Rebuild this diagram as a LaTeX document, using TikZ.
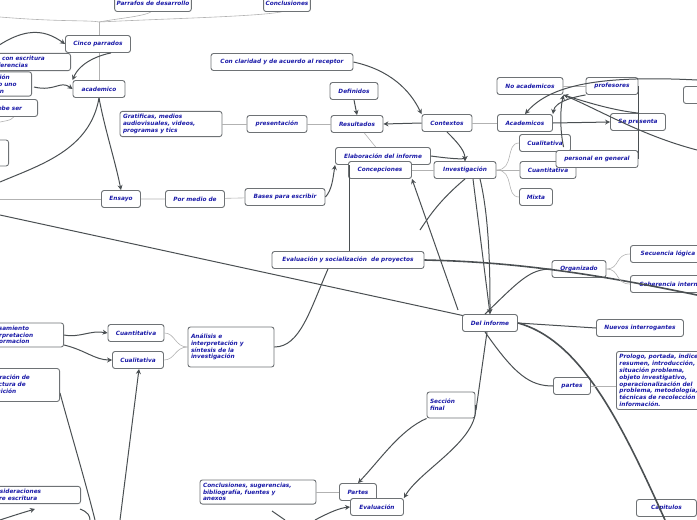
\documentclass[tikz,border=0pt]{standalone}
\usepackage{fontspec}
\setmainfont{DejaVu Sans}
\usetikzlibrary{arrows.meta}
\definecolor{tx}{HTML}{1A1AA8}
\definecolor{ln}{HTML}{4A4F52}
\tikzset{
 bx/.style={draw=ln!80,line width=0.9pt,rounded corners=2.5pt,fill=white,text=tx,font={\fontsize{5.8}{6.8}\selectfont\bfseries\itshape},inner sep=2pt,minimum height=17pt},
 ml/.style={bx,align=left,text width=#1,inner sep=3pt},
 tl/.style={draw=gray!60,line width=0.6pt},
 ar/.style={draw=ln,line width=1pt,-{Stealth[length=5pt,width=5pt]}},
 tk/.style={draw=ln,line width=1.6pt},
}
\hyphenpenalty=10000
\exhyphenpenalty=10000
\begin{document}
\begin{tikzpicture}[x=1pt,y=-1pt]
\useasboundingbox (0,0) rectangle (697,520);
\clip (0,0) rectangle (697,520);
% background lines
\draw[tl] (0,17) .. controls (60,22) and (90,20) .. (99,22);
\draw[tl] (99,22) .. controls (120,18) and (150,16) .. (153,10);
\draw[tl] (99,22) .. controls (180,18) and (280,16) .. (287,10);
\draw[tl] (99,22) -- (99,82);
\draw[tl] (0,122) .. controls (10,120) and (14,120) .. (16,112);
\draw[tl] (0,199) -- (105,199);
\draw[draw=ln,line width=1pt] (0,215) -- (465,316);
\draw[draw=ln,line width=1pt] (99,98) .. controls (90,150) and (40,165) .. (0,182);
\draw[draw=ln,line width=1pt] (60,393) .. controls (70,430) and (85,480) .. (95,520);
\draw[ar] (120,520) -- (139,369);
\draw[ar] (0,520) .. controls (15,515) and (25,512) .. (35,509);
\draw[draw=ln,line width=1pt] (80,509) .. controls (88,512) and (90,516) .. (90,520);
% nodes
\node[bx] (par) at (153,3) {Parrafos de desarrollo};
\node[bx] (con) at (287,3) {Conclusiones};
\node[ml=90pt,anchor=east] (lb1) at (71,62) {Claras, con escritura\\ con referencias};
\node[bx,minimum width=65pt] (cin) at (98,44) {Cinco parrados};
\node[ml=60pt,anchor=east] (lb2) at (32,84) {Introducción\\ Desarrollo uno\\ Conclusión};
\node[bx,minimum width=60pt,anchor=east] (deb) at (38,108) {Debe ser};
\node[bx,minimum width=50pt,minimum height=26pt,anchor=east] (lb3) at (9,153) {};
\node[bx,minimum width=52pt] (aca) at (99,89) {academico};
\node[bx,minimum width=142pt] (cla) at (282,62) {Con claridad y de acuerdo al receptor};
\node[bx,minimum width=48pt] (def) at (354,91) {Definidos};
\node[ml=96pt] (gra) at (171,124) {Gratificas, medios audiovisuales, videos, programas y tics};
\node[bx,minimum width=60pt] (pre) at (277,124) {presentación};
\node[bx,minimum width=52pt] (res) at (357,124) {Resultados};
\node[bx,minimum width=95pt] (ela) at (383,156) {Elaboración del informe};
\node[bx,minimum width=63pt] (cnc) at (380,170) {Concepciones};
\node[bx,minimum width=62pt] (inv) at (465,170) {Investigación};
\node[bx,minimum width=50pt] (ctx) at (447,123) {Contextos};
\node[bx,minimum width=55pt] (acs) at (525,123) {Academicos};
\node[bx,minimum width=66pt] (noa) at (530,86) {No academicos};
\node[bx,minimum width=52pt] (pro) at (612,86) {profesores};
\node[bx,minimum width=40pt,anchor=west] (sbx) at (683,95) {Se};
\node[bx,minimum width=51pt] (cl1) at (545,143) {Cualitativa};
\node[bx,minimum width=56pt] (cu1) at (548,170) {Cuantitativa};
\node[bx,minimum width=82pt] (per) at (597,159) {personal en general};
\node[bx,minimum width=55pt] (sep) at (638,122) {Se presenta};
\node[bx,minimum width=33pt] (mix) at (536,197) {Mixta};
\node[bx,minimum width=39pt] (ens) at (121,199) {Ensayo};
\node[bx,minimum width=59pt] (pmd) at (195,199) {Por medio de};
\node[bx,minimum width=80pt] (bas) at (285,197) {Bases para escribir};
\node[bx,minimum width=152pt] (evs) at (348,260) {Evaluación y socialización \ de proyectos};
\node[bx,minimum width=54pt] (org) at (579,269) {Organizado};
\node[bx,minimum width=75pt,anchor=west] (sec) at (630,254) {Secuencia lógica};
\node[bx,minimum width=80pt,anchor=west] (coh) at (630,284) {Coherencia interna};
\node[bx,minimum width=55pt] (dif) at (490,323) {Del informe};
\node[bx,minimum width=87pt] (nue) at (640,328) {Nuevos interrogantes};
\node[bx,minimum width=37pt] (pa1) at (572,386) {partes};
\node[ml=90pt,anchor=north west] (prl) at (616,351) {Prologo, portada, indice, resumen, introducción, situación problema, objeto investigativo, operacionalización del problema, metodología, técnicas de recolección de información.};
\node[ml=42pt,minimum height=26pt] (scf) at (451,405) {Sección\\ final};
\node[ml=80pt,anchor=east] (prc) at (64,335) {Procesamiento\\ e interpretacion\\ de informacion};
\node[bx,minimum width=56pt] (cu2) at (136,333) {Cuantitativa};
\node[bx,minimum width=51pt] (cl2) at (138,360) {Cualitativa};
\node[ml=80pt,minimum height=40pt] (ana) at (231,347) {Análisis e\\ interpretación y\\ síntesis de la\\ investigación};
\node[ml=75pt,anchor=east,minimum height=33pt] (ees) at (60,385) {Elaboración de\\ estructura de\\ exposición};
\node[ml=90pt,anchor=east] (csc) at (81,495) {Consideraciones\\ sobre escritura};
\node[ml=110pt] (cns) at (258,492) {Conclusiones, sugerencias,\\ bibliografía, fuentes y\\ anexos};
\node[bx,minimum width=37pt] (pa2) at (358,492) {Partes};
\node[bx,minimum width=53pt] (evl) at (377,507) {Evaluación};
\node[bx,minimum width=60pt,anchor=west] (cap) at (636,508) {Capitulos};
% connectors
\draw[tk] (evs.east) .. controls (520,262) and (600,275) .. (697,295);
\draw[tk] (dif.east) .. controls (580,340) and (620,420) .. (665,520);
\draw[ar] (lb2.north west) ++(2,0) .. controls (20,20) and (45,30) .. (cin.west);
\draw[ar] (cin.south east) ++(-20,0) .. controls (100,55) and (80,62) .. (aca.north west);
\draw[ar] (lb2.east) ++(2,3) .. controls (55,92) and (60,80) .. (aca.west);
\draw[ar] (aca.south) .. controls (105,130) and (115,160) .. (ens.north);
\draw[tl] (ens) -- (pmd) (pmd) -- (bas);
\draw[ar] (bas.east) .. controls (332,190) and (333,178) .. (ela.south west);
\draw[tl] (gra) -- (pre) (pre) -- (res);
\draw[ar] (def.south) -- (res.north);
\draw[ar] (cla.east) .. controls (390,70) and (410,90) .. (ctx.north west);
\draw[ar] (ctx.west) -- (res.east);
\draw[tl] (res) -- (ela);
\draw[ar] (ctx.south) .. controls (455,140) and (465,150) .. (inv.north);
\draw[ar] (ela.east) .. controls (445,158) and (465,160) .. (inv.north);
\draw[tl] (cnc) -- (inv);
\draw[tl] (inv.east) .. controls (515,170) and (505,143) .. (cl1.west);
\draw[tl] (inv.east) -- (cu1.west);
\draw[tl] (inv.east) .. controls (515,170) and (505,197) .. (mix.west);
\draw[tl] (ctx) -- (acs) (noa) -- (pro);
\draw[ar] (acs.east) -- (sep.west);
\draw[draw=ln,line width=1pt] (638,86) -- (638,159);
\draw[ar] (697,80) .. controls (600,75) and (550,85) .. (acs.north);
\draw[ar] (pro.south west) .. controls (580,96) and (555,100) .. (acs.north east);
\draw[ar] (sep.north) .. controls (610,110) and (580,100) .. (noa.south east);
\draw[ar] (per.north west) ++(8,-3) .. controls (560,130) and (560,110) .. (noa.south east);
\draw[draw=ln,line width=1pt] (noa.south east) .. controls (600,110) and (640,135) .. (697,150);
\draw[draw=ln,line width=1pt] (349,165) -- (349,251);
\draw[ar] (inv.south) ++(15,0) .. controls (490,220) and (490,280) .. (dif.north);
\draw[ar] (inv.south) ++(8,0) -- (dif.north);
\draw[draw=ln,line width=1pt] (inv.south) .. controls (440,200) and (430,215) .. (420,230);
\draw[ar] (dif.north west) ++(-4,-4) -- (cnc.south east);
\draw[draw=ln,line width=1pt] (evs.south) ++(-20,0) .. controls (310,310) and (300,347) .. (ana.east);
\draw[draw=ln,line width=1pt] (dif.north) ++(-5,0) .. controls (520,280) and (530,269) .. (org.west);
\draw[tl] (org.east) .. controls (620,269) and (615,254) .. (sec.west);
\draw[tl] (org.east) .. controls (620,269) and (615,284) .. (coh.west);
\draw[draw=ln,line width=1pt] (dif.east) -- (nue.west);
\draw[draw=ln,line width=1pt] (dif.south) ++(-5,0) .. controls (515,375) and (530,386) .. (pa1.west);
\draw[tl] (pa1) -- (prl.west |- pa1);
\draw[draw=ln,line width=1pt] (dif.south) ++(-3,0) -- (476,410);
\draw[ar] (scf.south west) .. controls (400,430) and (380,460) .. (pa2.north);
\draw[ar] (scf.east) .. controls (480,440) and (420,470) .. (evl.north east);
\draw[tl] (cns) -- (pa2);
\draw[tl] (ana.west) .. controls (175,347) and (175,333) .. (cu2.east);
\draw[tl] (ana.west) .. controls (175,347) and (175,360) .. (cl2.east);
\draw[ar] (prc.east) .. controls (80,338) and (90,330) .. (cu2.west);
\draw[ar] (prc.east) ++(0,10) .. controls (85,350) and (95,360) .. (cl2.west);
\draw[ar] (315,520) .. controls (330,512) and (340,508) .. (evl.west);
\draw[draw=ln,line width=1pt] (272,511) -- (285,520);
\end{tikzpicture}
\end{document}
